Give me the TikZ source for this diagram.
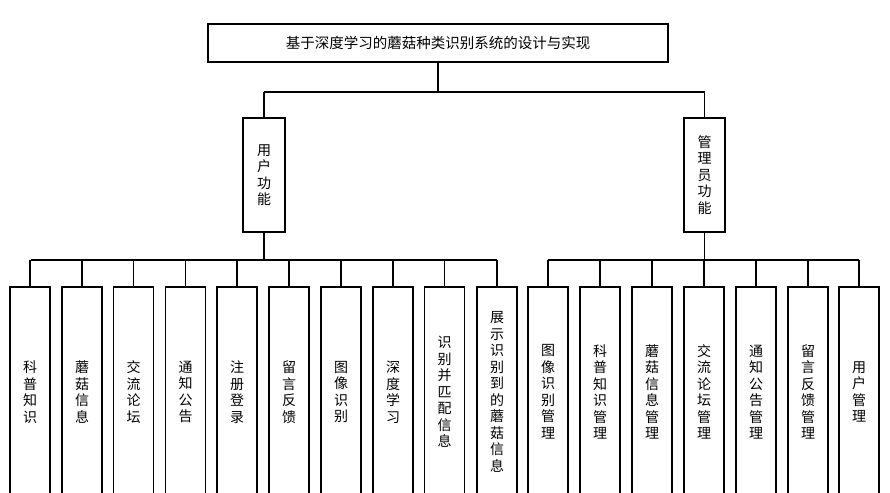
\documentclass[tikz,border=0pt]{standalone}
\usepackage{fontspec}
\setmainfont{Noto Sans CJK SC}
\begin{document}
\begin{tikzpicture}[x=1pt,y=-1pt,
  box/.style={draw,line width=1.2pt},
  ln/.style={line width=1.2pt},
  vt/.style={font=\fontsize{14}{16.5}\selectfont,align=center,inner sep=0pt}]
\useasboundingbox (0,0) rectangle (890,492);
\clip (0,0) rectangle (890,492);
\draw[box] (208,24) rectangle (668,62);
\node[font=\fontsize{14.5}{16}\selectfont] (t) at (438,43) {基于深度学习的蘑菇种类识别系统的设计与实现};
\draw[box] (243,118) rectangle (285,232);
\node[vt] (u) at (264,175) {用\\户\\功\\能};
\draw[box] (684,118) rectangle (725,232);
\node[vt] (a) at (704.5,175) {管\\理\\员\\功\\能};
\coordinate (tb) at (438,62);
\draw[ln] (tb) -- (438,92) (264,92) -- (704.5,92) (264,92) -- (264,118) (704.5,92) -- (704.5,118);
\draw[ln] (264,232) -- (264,260) (31,260) -- (497,260);
\draw[ln] (704.5,232) -- (704.5,260) (548,260) -- (859,260);
\foreach \x/\t [count=\i] in {30/科\\普\\知\\识, 82/蘑\\菇\\信\\息, 133.5/交\\流\\论\\坛, 185.5/通\\知\\公\\告, 237/注\\册\\登\\录, 289/留\\言\\反\\馈, 341/图\\像\\识\\别, 393/深\\度\\学\\习, 444.5/识\\别\\并\\匹\\配\\信\\息, 497/展\\示\\识\\别\\到\\的\\蘑\\菇\\信\\息, 548/图\\像\\识\\别\\管\\理, 600/科\\普\\知\\识\\管\\理, 652/蘑\\菇\\信\\息\\管\\理, 704/交\\流\\论\\坛\\管\\理, 756/通\\知\\公\\告\\管\\理, 808/留\\言\\反\\馈\\管\\理, 859/用\\户\\管\\理}{
  \draw[ln] (\x,260) -- (\x,287);
  \draw[box] (\x-20,496) -- (\x-20,287) -- (\x+20,287) -- (\x+20,496);
  \node[vt] (l\i) at (\x,392) {\t};
}
\end{tikzpicture}
\end{document}
